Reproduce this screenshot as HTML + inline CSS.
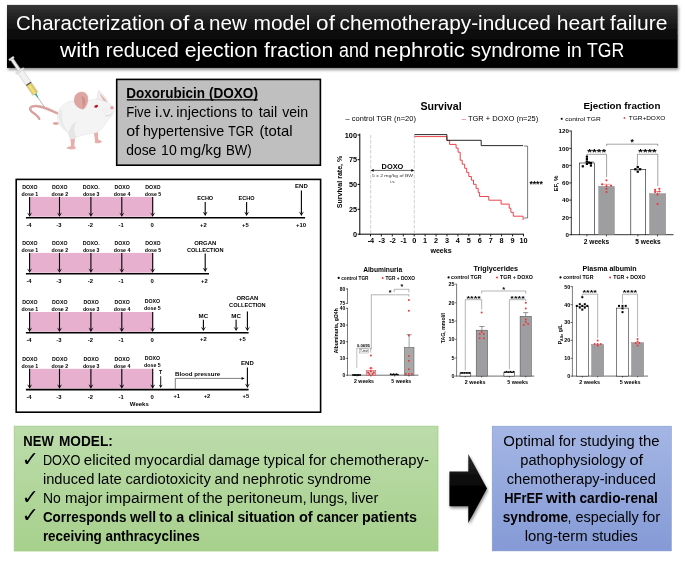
<!DOCTYPE html>
<html lang="en"><head><meta charset="utf-8"><title>Graphical abstract</title>
<style>
html,body{margin:0;padding:0;background:#fff;}
body{width:685px;height:564px;overflow:hidden;}
svg{display:block;font-family:"Liberation Sans",sans-serif;}
</style></head><body>
<svg width="685" height="564" viewBox="0 0 685 564">
<defs>
<linearGradient id="gBan" x1="0" y1="0" x2="0" y2="1"><stop offset="0" stop-color="#353535"/><stop offset="0.2" stop-color="#222"/><stop offset="0.4" stop-color="#101010"/><stop offset="0.6" stop-color="#030303"/><stop offset="0.7" stop-color="#000"/><stop offset="1" stop-color="#000"/></linearGradient>
<linearGradient id="gArr" x1="0" y1="0" x2="0" y2="1"><stop offset="0" stop-color="#2e2e2e"/><stop offset="0.3" stop-color="#111"/><stop offset="0.55" stop-color="#000"/></linearGradient>
<linearGradient id="gGreen" x1="0" y1="0" x2="0" y2="1"><stop offset="0" stop-color="#bcdcab"/><stop offset="1" stop-color="#a7d08c"/></linearGradient>
<linearGradient id="gBlue" x1="0" y1="0" x2="0" y2="1"><stop offset="0" stop-color="#a4b6e4"/><stop offset="1" stop-color="#859ad6"/></linearGradient>
<filter id="sh" x="-5%" y="-10%" width="110%" height="130%"><feGaussianBlur in="SourceAlpha" stdDeviation="1.6"/><feOffset dx="0.5" dy="1.5"/><feComponentTransfer><feFuncA type="linear" slope="0.45"/></feComponentTransfer><feMerge><feMergeNode/><feMergeNode in="SourceGraphic"/></feMerge></filter>
</defs>
<rect width="685" height="564" fill="#fff"/>

<rect x="7" y="4.9" width="670.6" height="63" fill="url(#gBan)" filter="url(#sh)"/>
<text y="30.3" font-size="19.6" font-weight="normal" fill="#fff"><tspan x="16.1" textLength="148.8" lengthAdjust="spacingAndGlyphs">Characterization</tspan> <tspan x="169.5" textLength="19.8" lengthAdjust="spacingAndGlyphs">of</tspan> <tspan x="193.5" textLength="11.0" lengthAdjust="spacingAndGlyphs">a</tspan> <tspan x="209.1" textLength="37.8" lengthAdjust="spacingAndGlyphs">new</tspan> <tspan x="253.5" textLength="57.0" lengthAdjust="spacingAndGlyphs">model</tspan> <tspan x="316.1" textLength="18.8" lengthAdjust="spacingAndGlyphs">of</tspan> <tspan x="339.5" textLength="211.4" lengthAdjust="spacingAndGlyphs">chemotherapy-induced</tspan> <tspan x="556.7" textLength="48.2" lengthAdjust="spacingAndGlyphs">heart</tspan> <tspan x="610.1" textLength="57.4" lengthAdjust="spacingAndGlyphs">failure</tspan></text>
<text y="56.7" font-size="19.6" font-weight="normal" fill="#fff"><tspan x="60.1" textLength="39.8" lengthAdjust="spacingAndGlyphs">with</tspan> <tspan x="105.7" textLength="73.2" lengthAdjust="spacingAndGlyphs">reduced</tspan> <tspan x="184.7" textLength="73.2" lengthAdjust="spacingAndGlyphs">ejection</tspan> <tspan x="264.1" textLength="69.2" lengthAdjust="spacingAndGlyphs">fraction</tspan> <tspan x="339.1" textLength="29.8" lengthAdjust="spacingAndGlyphs">and</tspan> <tspan x="374.1" textLength="90.8" lengthAdjust="spacingAndGlyphs">nephrotic</tspan> <tspan x="470.7" textLength="89.8" lengthAdjust="spacingAndGlyphs">syndrome</tspan> <tspan x="566.7" textLength="15.2" lengthAdjust="spacingAndGlyphs">in</tspan> <tspan x="587.1" textLength="37.2" lengthAdjust="spacingAndGlyphs">TGR</tspan></text>
<rect x="116.7" y="79.4" width="203.7" height="85.8" fill="#bfbfbf" stroke="#000" stroke-width="1.6"/>
<text y="97.8" font-size="13.9" font-weight="bold" fill="#000"><tspan x="126.2" textLength="78.7" lengthAdjust="spacingAndGlyphs">Doxorubicin</tspan> <tspan x="209.0" textLength="48.9" lengthAdjust="spacingAndGlyphs">(DOXO)</tspan></text>
<line x1="126.8" y1="99.9" x2="257.8" y2="99.9" stroke="#000" stroke-width="1.1"/>
<text y="116.6" font-size="13.9" font-weight="normal" fill="#000"><tspan x="126.2" textLength="24.8" lengthAdjust="spacingAndGlyphs">Five</tspan> <tspan x="155.1" textLength="18.6" lengthAdjust="spacingAndGlyphs">i.v.</tspan> <tspan x="176.3" textLength="60.8" lengthAdjust="spacingAndGlyphs">injections</tspan> <tspan x="241.2" textLength="11.8" lengthAdjust="spacingAndGlyphs">to</tspan> <tspan x="258.7" textLength="18.6" lengthAdjust="spacingAndGlyphs">tail</tspan> <tspan x="282.2" textLength="25.9" lengthAdjust="spacingAndGlyphs">vein</tspan></text>
<text y="135.6" font-size="13.9" font-weight="normal" fill="#000"><tspan x="126.2" textLength="13.4" lengthAdjust="spacingAndGlyphs">of</tspan> <tspan x="142.9" textLength="81.3" lengthAdjust="spacingAndGlyphs">hypertensive</tspan> <tspan x="228.3" textLength="25.5" lengthAdjust="spacingAndGlyphs">TGR</tspan> <tspan x="259.4" textLength="33.1" lengthAdjust="spacingAndGlyphs">(total</tspan></text>
<text y="154.6" font-size="13.9" font-weight="normal" fill="#000"><tspan x="126.2" textLength="30.1" lengthAdjust="spacingAndGlyphs">dose</tspan> <tspan x="161.1" textLength="15.7" lengthAdjust="spacingAndGlyphs">10</tspan> <tspan x="180.1" textLength="41.3" lengthAdjust="spacingAndGlyphs">mg/kg</tspan> <tspan x="226.0" textLength="25.8" lengthAdjust="spacingAndGlyphs">BW)</tspan></text>
<rect x="16.2" y="179.4" width="304.4" height="232.8" fill="#fff" stroke="#000" stroke-width="1.6"/>
<rect x="29.6" y="196.9" width="123.5" height="19.8" fill="#e8b0cf" stroke="none" stroke-width="1"/>
<line x1="25.9" y1="217.7" x2="305.1" y2="217.7" stroke="#000" stroke-width="1.6"/>
<line x1="29.6" y1="196.9" x2="29.6" y2="214.2" stroke="#000" stroke-width="1.1"/>
<path d="M27.1,212.4 L29.6,214.4 L32.1,212.4 L29.6,216.8 Z" fill="#000"/>
<line x1="59.5" y1="196.9" x2="59.5" y2="214.2" stroke="#000" stroke-width="1.1"/>
<path d="M57.0,212.4 L59.5,214.4 L62.0,212.4 L59.5,216.8 Z" fill="#000"/>
<line x1="90.9" y1="196.9" x2="90.9" y2="214.2" stroke="#000" stroke-width="1.1"/>
<path d="M88.4,212.4 L90.9,214.4 L93.4,212.4 L90.9,216.8 Z" fill="#000"/>
<line x1="121.8" y1="196.9" x2="121.8" y2="214.2" stroke="#000" stroke-width="1.1"/>
<path d="M119.3,212.4 L121.8,214.4 L124.3,212.4 L121.8,216.8 Z" fill="#000"/>
<line x1="152.7" y1="196.9" x2="152.7" y2="214.2" stroke="#000" stroke-width="1.1"/>
<path d="M150.2,212.4 L152.7,214.4 L155.2,212.4 L152.7,216.8 Z" fill="#000"/>
<text x="29.9" y="189.1" font-size="5.3" text-anchor="middle" font-weight="bold" fill="#000" textLength="15.4" lengthAdjust="spacingAndGlyphs">DOXO</text>
<text x="29.9" y="195.9" font-size="5.3" text-anchor="middle" font-weight="bold" fill="#000" textLength="16.6" lengthAdjust="spacingAndGlyphs">dose 1</text>
<text x="59.8" y="189.1" font-size="5.3" text-anchor="middle" font-weight="bold" fill="#000" textLength="15.4" lengthAdjust="spacingAndGlyphs">DOXO</text>
<text x="59.8" y="195.9" font-size="5.3" text-anchor="middle" font-weight="bold" fill="#000" textLength="16.6" lengthAdjust="spacingAndGlyphs">dose 2</text>
<text x="91.2" y="189.1" font-size="5.3" text-anchor="middle" font-weight="bold" fill="#000" textLength="17.0" lengthAdjust="spacingAndGlyphs">DOXO.</text>
<text x="91.2" y="195.9" font-size="5.3" text-anchor="middle" font-weight="bold" fill="#000" textLength="16.6" lengthAdjust="spacingAndGlyphs">dose 3</text>
<text x="122.1" y="189.1" font-size="5.3" text-anchor="middle" font-weight="bold" fill="#000" textLength="15.4" lengthAdjust="spacingAndGlyphs">DOXO</text>
<text x="122.1" y="195.9" font-size="5.3" text-anchor="middle" font-weight="bold" fill="#000" textLength="16.6" lengthAdjust="spacingAndGlyphs">dose 4</text>
<text x="153.0" y="189.1" font-size="5.3" text-anchor="middle" font-weight="bold" fill="#000" textLength="15.4" lengthAdjust="spacingAndGlyphs">DOXO</text>
<text x="153.0" y="195.9" font-size="5.3" text-anchor="middle" font-weight="bold" fill="#000" textLength="16.6" lengthAdjust="spacingAndGlyphs">dose 5</text>
<text x="29.0" y="227.0" font-size="5.5" text-anchor="middle" font-weight="bold" fill="#000" textLength="5.2" lengthAdjust="spacingAndGlyphs">-4</text>
<text x="58.9" y="227.0" font-size="5.5" text-anchor="middle" font-weight="bold" fill="#000" textLength="5.2" lengthAdjust="spacingAndGlyphs">-3</text>
<text x="90.3" y="227.0" font-size="5.5" text-anchor="middle" font-weight="bold" fill="#000" textLength="5.2" lengthAdjust="spacingAndGlyphs">-2</text>
<text x="121.2" y="227.0" font-size="5.5" text-anchor="middle" font-weight="bold" fill="#000" textLength="5.2" lengthAdjust="spacingAndGlyphs">-1</text>
<text x="152.1" y="227.0" font-size="5.5" text-anchor="middle" font-weight="bold" fill="#000" textLength="3.3" lengthAdjust="spacingAndGlyphs">0</text>
<text x="205.2" y="199.9" font-size="5.3" text-anchor="middle" font-weight="bold" fill="#000" textLength="16.0" lengthAdjust="spacingAndGlyphs">ECHO</text>
<line x1="205.2" y1="202.0" x2="205.2" y2="213.4" stroke="#000" stroke-width="1.1"/>
<path d="M202.7,211.6 L205.2,213.6 L207.7,211.6 L205.2,216.0 Z" fill="#000"/>
<text x="246.6" y="199.9" font-size="5.3" text-anchor="middle" font-weight="bold" fill="#000" textLength="16.0" lengthAdjust="spacingAndGlyphs">ECHO</text>
<line x1="246.6" y1="202.0" x2="246.6" y2="213.4" stroke="#000" stroke-width="1.1"/>
<path d="M244.1,211.6 L246.6,213.6 L249.1,211.6 L246.6,216.0 Z" fill="#000"/>
<text x="301.4" y="188.1" font-size="5.3" text-anchor="middle" font-weight="bold" fill="#000" textLength="12.6" lengthAdjust="spacingAndGlyphs">END</text>
<line x1="301.4" y1="190.6" x2="301.4" y2="213.4" stroke="#000" stroke-width="1.1"/>
<path d="M298.9,211.6 L301.4,213.6 L303.9,211.6 L301.4,216.0 Z" fill="#000"/>
<text x="203.4" y="227.0" font-size="5.5" text-anchor="middle" font-weight="bold" fill="#000" textLength="6.6" lengthAdjust="spacingAndGlyphs">+2</text>
<text x="245.4" y="227.0" font-size="5.5" text-anchor="middle" font-weight="bold" fill="#000" textLength="6.6" lengthAdjust="spacingAndGlyphs">+5</text>
<text x="301.1" y="227.0" font-size="5.5" text-anchor="middle" font-weight="bold" fill="#000" textLength="10.2" lengthAdjust="spacingAndGlyphs">+10</text>
<rect x="29.6" y="252.9" width="123.5" height="19.8" fill="#e8b0cf" stroke="none" stroke-width="1"/>
<line x1="25.9" y1="273.7" x2="209.0" y2="273.7" stroke="#000" stroke-width="1.6"/>
<line x1="29.6" y1="252.9" x2="29.6" y2="270.2" stroke="#000" stroke-width="1.1"/>
<path d="M27.1,268.4 L29.6,270.4 L32.1,268.4 L29.6,272.8 Z" fill="#000"/>
<line x1="59.5" y1="252.9" x2="59.5" y2="270.2" stroke="#000" stroke-width="1.1"/>
<path d="M57.0,268.4 L59.5,270.4 L62.0,268.4 L59.5,272.8 Z" fill="#000"/>
<line x1="90.9" y1="252.9" x2="90.9" y2="270.2" stroke="#000" stroke-width="1.1"/>
<path d="M88.4,268.4 L90.9,270.4 L93.4,268.4 L90.9,272.8 Z" fill="#000"/>
<line x1="121.8" y1="252.9" x2="121.8" y2="270.2" stroke="#000" stroke-width="1.1"/>
<path d="M119.3,268.4 L121.8,270.4 L124.3,268.4 L121.8,272.8 Z" fill="#000"/>
<line x1="152.7" y1="252.9" x2="152.7" y2="270.2" stroke="#000" stroke-width="1.1"/>
<path d="M150.2,268.4 L152.7,270.4 L155.2,268.4 L152.7,272.8 Z" fill="#000"/>
<text x="29.9" y="245.1" font-size="5.3" text-anchor="middle" font-weight="bold" fill="#000" textLength="15.4" lengthAdjust="spacingAndGlyphs">DOXO</text>
<text x="29.9" y="251.9" font-size="5.3" text-anchor="middle" font-weight="bold" fill="#000" textLength="16.6" lengthAdjust="spacingAndGlyphs">dose 1</text>
<text x="59.8" y="245.1" font-size="5.3" text-anchor="middle" font-weight="bold" fill="#000" textLength="15.4" lengthAdjust="spacingAndGlyphs">DOXO</text>
<text x="59.8" y="251.9" font-size="5.3" text-anchor="middle" font-weight="bold" fill="#000" textLength="16.6" lengthAdjust="spacingAndGlyphs">dose 2</text>
<text x="91.2" y="245.1" font-size="5.3" text-anchor="middle" font-weight="bold" fill="#000" textLength="17.0" lengthAdjust="spacingAndGlyphs">DOXO.</text>
<text x="91.2" y="251.9" font-size="5.3" text-anchor="middle" font-weight="bold" fill="#000" textLength="16.6" lengthAdjust="spacingAndGlyphs">dose 3</text>
<text x="122.1" y="245.1" font-size="5.3" text-anchor="middle" font-weight="bold" fill="#000" textLength="15.4" lengthAdjust="spacingAndGlyphs">DOXO</text>
<text x="122.1" y="251.9" font-size="5.3" text-anchor="middle" font-weight="bold" fill="#000" textLength="16.6" lengthAdjust="spacingAndGlyphs">dose 4</text>
<text x="153.0" y="245.1" font-size="5.3" text-anchor="middle" font-weight="bold" fill="#000" textLength="15.4" lengthAdjust="spacingAndGlyphs">DOXO</text>
<text x="153.0" y="251.9" font-size="5.3" text-anchor="middle" font-weight="bold" fill="#000" textLength="16.6" lengthAdjust="spacingAndGlyphs">dose 5</text>
<text x="29.0" y="283.0" font-size="5.5" text-anchor="middle" font-weight="bold" fill="#000" textLength="5.2" lengthAdjust="spacingAndGlyphs">-4</text>
<text x="58.9" y="283.0" font-size="5.5" text-anchor="middle" font-weight="bold" fill="#000" textLength="5.2" lengthAdjust="spacingAndGlyphs">-3</text>
<text x="90.3" y="283.0" font-size="5.5" text-anchor="middle" font-weight="bold" fill="#000" textLength="5.2" lengthAdjust="spacingAndGlyphs">-2</text>
<text x="121.2" y="283.0" font-size="5.5" text-anchor="middle" font-weight="bold" fill="#000" textLength="5.2" lengthAdjust="spacingAndGlyphs">-1</text>
<text x="152.1" y="283.0" font-size="5.5" text-anchor="middle" font-weight="bold" fill="#000" textLength="3.3" lengthAdjust="spacingAndGlyphs">0</text>
<text x="205.2" y="244.6" font-size="5.3" text-anchor="middle" font-weight="bold" fill="#000" textLength="22.0" lengthAdjust="spacingAndGlyphs">ORGAN</text>
<text x="205.2" y="251.7" font-size="5.3" text-anchor="middle" font-weight="bold" fill="#000" textLength="36.6" lengthAdjust="spacingAndGlyphs">COLLECTION</text>
<line x1="205.2" y1="253.6" x2="205.2" y2="269.4" stroke="#000" stroke-width="1.1"/>
<path d="M202.7,267.6 L205.2,269.6 L207.7,267.6 L205.2,272.0 Z" fill="#000"/>
<text x="204.4" y="283.0" font-size="5.5" text-anchor="middle" font-weight="bold" fill="#000" textLength="6.6" lengthAdjust="spacingAndGlyphs">+2</text>
<rect x="29.6" y="312.0" width="123.5" height="19.8" fill="#e8b0cf" stroke="none" stroke-width="1"/>
<line x1="25.9" y1="332.8" x2="248.6" y2="332.8" stroke="#000" stroke-width="1.6"/>
<line x1="29.6" y1="312.0" x2="29.6" y2="329.3" stroke="#000" stroke-width="1.1"/>
<path d="M27.1,327.5 L29.6,329.5 L32.1,327.5 L29.6,331.9 Z" fill="#000"/>
<line x1="59.5" y1="312.0" x2="59.5" y2="329.3" stroke="#000" stroke-width="1.1"/>
<path d="M57.0,327.5 L59.5,329.5 L62.0,327.5 L59.5,331.9 Z" fill="#000"/>
<line x1="90.9" y1="312.0" x2="90.9" y2="329.3" stroke="#000" stroke-width="1.1"/>
<path d="M88.4,327.5 L90.9,329.5 L93.4,327.5 L90.9,331.9 Z" fill="#000"/>
<line x1="121.8" y1="312.0" x2="121.8" y2="329.3" stroke="#000" stroke-width="1.1"/>
<path d="M119.3,327.5 L121.8,329.5 L124.3,327.5 L121.8,331.9 Z" fill="#000"/>
<line x1="152.7" y1="312.0" x2="152.7" y2="329.3" stroke="#000" stroke-width="1.1"/>
<path d="M150.2,327.5 L152.7,329.5 L155.2,327.5 L152.7,331.9 Z" fill="#000"/>
<text x="29.9" y="304.2" font-size="5.3" text-anchor="middle" font-weight="bold" fill="#000" textLength="15.4" lengthAdjust="spacingAndGlyphs">DOXO</text>
<text x="29.9" y="311.0" font-size="5.3" text-anchor="middle" font-weight="bold" fill="#000" textLength="16.6" lengthAdjust="spacingAndGlyphs">dose 1</text>
<text x="59.8" y="304.2" font-size="5.3" text-anchor="middle" font-weight="bold" fill="#000" textLength="15.4" lengthAdjust="spacingAndGlyphs">DOXO</text>
<text x="59.8" y="311.0" font-size="5.3" text-anchor="middle" font-weight="bold" fill="#000" textLength="16.6" lengthAdjust="spacingAndGlyphs">dose 2</text>
<text x="91.2" y="304.2" font-size="5.3" text-anchor="middle" font-weight="bold" fill="#000" textLength="15.4" lengthAdjust="spacingAndGlyphs">DOXO</text>
<text x="91.2" y="311.0" font-size="5.3" text-anchor="middle" font-weight="bold" fill="#000" textLength="16.6" lengthAdjust="spacingAndGlyphs">dose 3</text>
<text x="122.1" y="304.2" font-size="5.3" text-anchor="middle" font-weight="bold" fill="#000" textLength="15.4" lengthAdjust="spacingAndGlyphs">DOXO</text>
<text x="122.1" y="311.0" font-size="5.3" text-anchor="middle" font-weight="bold" fill="#000" textLength="16.6" lengthAdjust="spacingAndGlyphs">dose 4</text>
<text x="152.4" y="303.4" font-size="5.3" text-anchor="middle" font-weight="bold" fill="#000" textLength="15.4" lengthAdjust="spacingAndGlyphs">DOXO</text>
<text x="152.4" y="310.2" font-size="5.3" text-anchor="middle" font-weight="bold" fill="#000" textLength="16.6" lengthAdjust="spacingAndGlyphs">dose 5</text>
<text x="29.0" y="342.1" font-size="5.5" text-anchor="middle" font-weight="bold" fill="#000" textLength="5.2" lengthAdjust="spacingAndGlyphs">-4</text>
<text x="58.9" y="342.1" font-size="5.5" text-anchor="middle" font-weight="bold" fill="#000" textLength="5.2" lengthAdjust="spacingAndGlyphs">-3</text>
<text x="90.3" y="342.1" font-size="5.5" text-anchor="middle" font-weight="bold" fill="#000" textLength="5.2" lengthAdjust="spacingAndGlyphs">-2</text>
<text x="121.2" y="342.1" font-size="5.5" text-anchor="middle" font-weight="bold" fill="#000" textLength="5.2" lengthAdjust="spacingAndGlyphs">-1</text>
<text x="152.1" y="342.1" font-size="5.5" text-anchor="middle" font-weight="bold" fill="#000" textLength="3.3" lengthAdjust="spacingAndGlyphs">0</text>
<text x="247.4" y="299.9" font-size="5.3" text-anchor="middle" font-weight="bold" fill="#000" textLength="22.0" lengthAdjust="spacingAndGlyphs">ORGAN</text>
<text x="247.4" y="306.9" font-size="5.3" text-anchor="middle" font-weight="bold" fill="#000" textLength="36.6" lengthAdjust="spacingAndGlyphs">COLLECTION</text>
<line x1="247.4" y1="311.4" x2="247.4" y2="328.5" stroke="#000" stroke-width="1.1"/>
<path d="M244.9,326.7 L247.4,328.7 L249.9,326.7 L247.4,331.1 Z" fill="#000"/>
<text x="203.4" y="317.5" font-size="5.3" text-anchor="middle" font-weight="bold" fill="#000" textLength="9.6" lengthAdjust="spacingAndGlyphs">MC</text>
<line x1="203.4" y1="319.7" x2="203.4" y2="328.5" stroke="#000" stroke-width="1.1"/>
<path d="M200.9,326.7 L203.4,328.7 L205.9,326.7 L203.4,331.1 Z" fill="#000"/>
<text x="236.1" y="317.5" font-size="5.3" text-anchor="middle" font-weight="bold" fill="#000" textLength="9.6" lengthAdjust="spacingAndGlyphs">MC</text>
<line x1="236.1" y1="319.7" x2="236.1" y2="328.5" stroke="#000" stroke-width="1.1"/>
<path d="M233.6,326.7 L236.1,328.7 L238.6,326.7 L236.1,331.1 Z" fill="#000"/>
<text x="203.4" y="341.3" font-size="5.5" text-anchor="middle" font-weight="bold" fill="#000" textLength="6.6" lengthAdjust="spacingAndGlyphs">+2</text>
<text x="242.4" y="341.3" font-size="5.5" text-anchor="middle" font-weight="bold" fill="#000" textLength="6.6" lengthAdjust="spacingAndGlyphs">+5</text>
<rect x="29.6" y="368.8" width="123.5" height="19.8" fill="#e8b0cf" stroke="none" stroke-width="1"/>
<line x1="25.9" y1="389.6" x2="248.6" y2="389.6" stroke="#000" stroke-width="1.6"/>
<line x1="29.6" y1="368.8" x2="29.6" y2="386.1" stroke="#000" stroke-width="1.1"/>
<path d="M27.1,384.3 L29.6,386.3 L32.1,384.3 L29.6,388.7 Z" fill="#000"/>
<line x1="59.5" y1="368.8" x2="59.5" y2="386.1" stroke="#000" stroke-width="1.1"/>
<path d="M57.0,384.3 L59.5,386.3 L62.0,384.3 L59.5,388.7 Z" fill="#000"/>
<line x1="90.9" y1="368.8" x2="90.9" y2="386.1" stroke="#000" stroke-width="1.1"/>
<path d="M88.4,384.3 L90.9,386.3 L93.4,384.3 L90.9,388.7 Z" fill="#000"/>
<line x1="121.8" y1="368.8" x2="121.8" y2="386.1" stroke="#000" stroke-width="1.1"/>
<path d="M119.3,384.3 L121.8,386.3 L124.3,384.3 L121.8,388.7 Z" fill="#000"/>
<line x1="152.7" y1="368.8" x2="152.7" y2="386.1" stroke="#000" stroke-width="1.1"/>
<path d="M150.2,384.3 L152.7,386.3 L155.2,384.3 L152.7,388.7 Z" fill="#000"/>
<text x="29.9" y="361.0" font-size="5.3" text-anchor="middle" font-weight="bold" fill="#000" textLength="15.4" lengthAdjust="spacingAndGlyphs">DOXO</text>
<text x="29.9" y="367.8" font-size="5.3" text-anchor="middle" font-weight="bold" fill="#000" textLength="16.6" lengthAdjust="spacingAndGlyphs">dose 1</text>
<text x="59.8" y="361.0" font-size="5.3" text-anchor="middle" font-weight="bold" fill="#000" textLength="15.4" lengthAdjust="spacingAndGlyphs">DOXO</text>
<text x="59.8" y="367.8" font-size="5.3" text-anchor="middle" font-weight="bold" fill="#000" textLength="16.6" lengthAdjust="spacingAndGlyphs">dose 2</text>
<text x="91.2" y="361.0" font-size="5.3" text-anchor="middle" font-weight="bold" fill="#000" textLength="15.4" lengthAdjust="spacingAndGlyphs">DOXO</text>
<text x="91.2" y="367.8" font-size="5.3" text-anchor="middle" font-weight="bold" fill="#000" textLength="16.6" lengthAdjust="spacingAndGlyphs">dose 3</text>
<text x="122.1" y="361.0" font-size="5.3" text-anchor="middle" font-weight="bold" fill="#000" textLength="15.4" lengthAdjust="spacingAndGlyphs">DOXO</text>
<text x="122.1" y="367.8" font-size="5.3" text-anchor="middle" font-weight="bold" fill="#000" textLength="16.6" lengthAdjust="spacingAndGlyphs">dose 4</text>
<text x="152.4" y="360.2" font-size="5.3" text-anchor="middle" font-weight="bold" fill="#000" textLength="15.4" lengthAdjust="spacingAndGlyphs">DOXO</text>
<text x="152.4" y="367.0" font-size="5.3" text-anchor="middle" font-weight="bold" fill="#000" textLength="16.6" lengthAdjust="spacingAndGlyphs">dose 5</text>
<text x="29.0" y="398.9" font-size="5.5" text-anchor="middle" font-weight="bold" fill="#000" textLength="5.2" lengthAdjust="spacingAndGlyphs">-4</text>
<text x="58.9" y="398.9" font-size="5.5" text-anchor="middle" font-weight="bold" fill="#000" textLength="5.2" lengthAdjust="spacingAndGlyphs">-3</text>
<text x="90.3" y="398.9" font-size="5.5" text-anchor="middle" font-weight="bold" fill="#000" textLength="5.2" lengthAdjust="spacingAndGlyphs">-2</text>
<text x="121.2" y="398.9" font-size="5.5" text-anchor="middle" font-weight="bold" fill="#000" textLength="5.2" lengthAdjust="spacingAndGlyphs">-1</text>
<text x="152.1" y="398.9" font-size="5.5" text-anchor="middle" font-weight="bold" fill="#000" textLength="3.3" lengthAdjust="spacingAndGlyphs">0</text>
<text x="247.4" y="364.7" font-size="5.3" text-anchor="middle" font-weight="bold" fill="#000" textLength="12.6" lengthAdjust="spacingAndGlyphs">END</text>
<line x1="247.4" y1="367.4" x2="247.4" y2="385.3" stroke="#000" stroke-width="1.1"/>
<path d="M244.9,383.5 L247.4,385.5 L249.9,383.5 L247.4,387.9 Z" fill="#000"/>
<text x="160.7" y="374.2" font-size="5.3" text-anchor="middle" font-weight="bold" fill="#000" textLength="3.2" lengthAdjust="spacingAndGlyphs">T</text>
<line x1="160.7" y1="376.2" x2="160.7" y2="386.0" stroke="#000" stroke-width="0.9"/>
<path d="M158.7,384.6 L160.7,386.1 L162.7,384.6 L160.7,388.0 Z" fill="#000"/>
<text x="175.1" y="376.1" font-size="5.3" text-anchor="start" font-weight="bold" fill="#000" textLength="45.2" lengthAdjust="spacingAndGlyphs">Blood pressure</text>
<path d="M175.3,388.8 V378.4 H243" fill="none" stroke="#000" stroke-width="0.5"/>
<path d="M241.6,377.0 L244.6,378.4 L241.6,379.8 Z" fill="#000"/>
<text x="176.8" y="397.7" font-size="5.5" text-anchor="middle" font-weight="bold" fill="#000" textLength="6.6" lengthAdjust="spacingAndGlyphs">+1</text>
<text x="207.0" y="397.7" font-size="5.5" text-anchor="middle" font-weight="bold" fill="#000" textLength="6.6" lengthAdjust="spacingAndGlyphs">+2</text>
<text x="245.9" y="397.7" font-size="5.5" text-anchor="middle" font-weight="bold" fill="#000" textLength="6.6" lengthAdjust="spacingAndGlyphs">+5</text>
<text x="139.3" y="406.0" font-size="5.3" text-anchor="middle" font-weight="bold" fill="#000" textLength="19.0" lengthAdjust="spacingAndGlyphs">Weeks</text>
<text x="441.0" y="109.8" font-size="10.6" text-anchor="middle" font-weight="bold" fill="#000">Survival</text>
<text x="345.6" y="120.9" font-size="7.3" text-anchor="start" font-weight="normal" fill="#000" textLength="70.3" lengthAdjust="spacingAndGlyphs">– control TGR (n=20)</text>
<text x="461.8" y="120.9" font-size="7.3" text-anchor="start" font-weight="normal" fill="#000" textLength="76.5" lengthAdjust="spacingAndGlyphs"><tspan fill="#ea3a40">–</tspan> TGR + DOXO (n=25)</text>
<line x1="359.8" y1="133.6" x2="359.8" y2="234.7" stroke="#000" stroke-width="1.0"/>
<line x1="359.3" y1="234.2" x2="524.0" y2="234.2" stroke="#000" stroke-width="1.0"/>
<line x1="357.6" y1="135.0" x2="359.8" y2="135.0" stroke="#000" stroke-width="1.0"/>
<text x="357.0" y="137.6" font-size="7.3" text-anchor="end" font-weight="bold" fill="#000">100</text>
<line x1="357.6" y1="159.7" x2="359.8" y2="159.7" stroke="#000" stroke-width="1.0"/>
<text x="357.0" y="162.3" font-size="7.3" text-anchor="end" font-weight="bold" fill="#000">75</text>
<line x1="357.6" y1="184.4" x2="359.8" y2="184.4" stroke="#000" stroke-width="1.0"/>
<text x="357.0" y="187.0" font-size="7.3" text-anchor="end" font-weight="bold" fill="#000">50</text>
<line x1="357.6" y1="209.3" x2="359.8" y2="209.3" stroke="#000" stroke-width="1.0"/>
<text x="357.0" y="211.9" font-size="7.3" text-anchor="end" font-weight="bold" fill="#000">25</text>
<line x1="357.6" y1="234.2" x2="359.8" y2="234.2" stroke="#000" stroke-width="1.0"/>
<text x="357.0" y="236.8" font-size="7.3" text-anchor="end" font-weight="bold" fill="#000">0</text>
<line x1="370.5" y1="234.2" x2="370.5" y2="236.4" stroke="#000" stroke-width="0.9"/>
<text x="370.9" y="242.9" font-size="7.3" text-anchor="middle" font-weight="bold" fill="#000">-4</text>
<line x1="381.4" y1="234.2" x2="381.4" y2="236.4" stroke="#000" stroke-width="0.9"/>
<text x="381.8" y="242.9" font-size="7.3" text-anchor="middle" font-weight="bold" fill="#000">-3</text>
<line x1="392.3" y1="234.2" x2="392.3" y2="236.4" stroke="#000" stroke-width="0.9"/>
<text x="392.7" y="242.9" font-size="7.3" text-anchor="middle" font-weight="bold" fill="#000">-2</text>
<line x1="403.3" y1="234.2" x2="403.3" y2="236.4" stroke="#000" stroke-width="0.9"/>
<text x="403.7" y="242.9" font-size="7.3" text-anchor="middle" font-weight="bold" fill="#000">-1</text>
<line x1="414.2" y1="234.2" x2="414.2" y2="236.4" stroke="#000" stroke-width="0.9"/>
<text x="414.2" y="242.9" font-size="7.3" text-anchor="middle" font-weight="bold" fill="#000">0</text>
<line x1="425.1" y1="234.2" x2="425.1" y2="236.4" stroke="#000" stroke-width="0.9"/>
<text x="425.1" y="242.9" font-size="7.3" text-anchor="middle" font-weight="bold" fill="#000">1</text>
<line x1="436.1" y1="234.2" x2="436.1" y2="236.4" stroke="#000" stroke-width="0.9"/>
<text x="436.1" y="242.9" font-size="7.3" text-anchor="middle" font-weight="bold" fill="#000">2</text>
<line x1="447.0" y1="234.2" x2="447.0" y2="236.4" stroke="#000" stroke-width="0.9"/>
<text x="447.0" y="242.9" font-size="7.3" text-anchor="middle" font-weight="bold" fill="#000">3</text>
<line x1="457.9" y1="234.2" x2="457.9" y2="236.4" stroke="#000" stroke-width="0.9"/>
<text x="457.9" y="242.9" font-size="7.3" text-anchor="middle" font-weight="bold" fill="#000">4</text>
<line x1="468.8" y1="234.2" x2="468.8" y2="236.4" stroke="#000" stroke-width="0.9"/>
<text x="468.8" y="242.9" font-size="7.3" text-anchor="middle" font-weight="bold" fill="#000">5</text>
<line x1="479.8" y1="234.2" x2="479.8" y2="236.4" stroke="#000" stroke-width="0.9"/>
<text x="479.8" y="242.9" font-size="7.3" text-anchor="middle" font-weight="bold" fill="#000">6</text>
<line x1="490.7" y1="234.2" x2="490.7" y2="236.4" stroke="#000" stroke-width="0.9"/>
<text x="490.7" y="242.9" font-size="7.3" text-anchor="middle" font-weight="bold" fill="#000">7</text>
<line x1="501.6" y1="234.2" x2="501.6" y2="236.4" stroke="#000" stroke-width="0.9"/>
<text x="501.6" y="242.9" font-size="7.3" text-anchor="middle" font-weight="bold" fill="#000">8</text>
<line x1="512.6" y1="234.2" x2="512.6" y2="236.4" stroke="#000" stroke-width="0.9"/>
<text x="512.6" y="242.9" font-size="7.3" text-anchor="middle" font-weight="bold" fill="#000">9</text>
<line x1="523.5" y1="234.2" x2="523.5" y2="236.4" stroke="#000" stroke-width="0.9"/>
<text x="523.5" y="242.9" font-size="7.3" text-anchor="middle" font-weight="bold" fill="#000">10</text>
<text x="441.0" y="252.5" font-size="7.3" text-anchor="middle" font-weight="bold" fill="#000" textLength="21.2" lengthAdjust="spacingAndGlyphs">weeks</text>
<text transform="translate(342.2,182) rotate(-90)" font-size="7.3" font-weight="bold" text-anchor="middle" textLength="52.6" lengthAdjust="spacingAndGlyphs">Survival rate, %</text>
<line x1="370.7" y1="135.0" x2="370.7" y2="233.5" stroke="#b0b0b0" stroke-width="0.6" stroke-dasharray="3.6,1.4"/>
<line x1="414.3" y1="135.0" x2="414.3" y2="233.5" stroke="#b0b0b0" stroke-width="0.6" stroke-dasharray="3.6,1.4"/>
<text x="392.5" y="169.0" font-size="7.4" text-anchor="middle" font-weight="bold" fill="#000">DOXO</text>
<line x1="372.0" y1="170.4" x2="413.0" y2="170.4" stroke="#000" stroke-width="0.6"/>
<path d="M370.7,170.4 l3,-1.3 v2.6 Z M414.3,170.4 l-3,-1.3 v2.6 Z" fill="#000"/>
<text x="392.6" y="177.2" font-size="4.3" text-anchor="middle" font-weight="normal" fill="#333" textLength="41.0" lengthAdjust="spacingAndGlyphs">5 x 2 mg/kg of BW</text>
<text x="392.6" y="182.8" font-size="4.3" text-anchor="middle" font-weight="normal" fill="#333">i.v.</text>
<polyline fill="none" stroke="#ea3a40" stroke-width="0.95" points="414.4,136.6 446.9,136.6 446.9,140.5 449.6,140.5 449.6,144.4 456.1,144.4 456.1,148.1 458.1,148.1 458.1,152.2 460.2,152.2 460.2,160.2 462.2,160.2 462.2,164.2 464.7,164.2 464.7,168.3 466.7,168.3 466.7,172.4 468.8,172.4 468.8,176.5 471.4,176.5 471.4,180.2 473.5,180.2 473.5,184.3 476.1,184.3 476.1,188.4 478.2,188.4 478.2,192.4 479.6,192.4 479.6,196.5 488.8,196.5 488.8,200.2 501.1,200.2 501.1,204.1 509.2,204.1 509.2,208.2 510.9,208.2 510.9,212.3 513.3,212.3 513.3,216.2 523.1,216.2 523.1,220.0"/>
<polyline fill="none" stroke="#111" stroke-width="0.9" points="414.4,134.6 446.9,134.6 446.9,140.3 481.2,140.3 481.2,145.6 523.1,145.6"/>
<path d="M524.1,146.1 H527.6 V218 H524.1" fill="none" stroke="#222" stroke-width="0.6"/>
<text x="536.1" y="186.9" font-size="9.0" text-anchor="middle" font-weight="bold" fill="#000" textLength="13.4" lengthAdjust="spacingAndGlyphs">****</text>
<text x="621.9" y="109.3" font-size="9.8" text-anchor="middle" font-weight="bold" fill="#000" textLength="77.0" lengthAdjust="spacingAndGlyphs">Ejection fraction</text>
<rect x="560.8" y="117.9" width="1.8" height="1.8" fill="#000" stroke="none" stroke-width="1"/>
<text x="565.2" y="120.7" font-size="5.7" text-anchor="start" font-weight="normal" fill="#000" textLength="35.6" lengthAdjust="spacingAndGlyphs">control TGR</text>
<circle cx="624.5" cy="117.9" r="0.95" fill="#ea3a40"/>
<text x="628.7" y="119.9" font-size="5.7" text-anchor="start" font-weight="normal" fill="#000" textLength="36.6" lengthAdjust="spacingAndGlyphs">TGR+DOXO</text>
<line x1="571.3" y1="130.6" x2="571.3" y2="235.1" stroke="#000" stroke-width="0.8"/>
<line x1="570.9" y1="234.7" x2="673.5" y2="234.7" stroke="#000" stroke-width="0.8"/>
<line x1="569.2" y1="131.0" x2="571.3" y2="131.0" stroke="#000" stroke-width="0.8"/>
<text x="568.9" y="133.2" font-size="6.2" text-anchor="end" font-weight="bold" fill="#000">120</text>
<line x1="569.2" y1="148.3" x2="571.3" y2="148.3" stroke="#000" stroke-width="0.8"/>
<text x="568.9" y="150.5" font-size="6.2" text-anchor="end" font-weight="bold" fill="#000">100</text>
<line x1="569.2" y1="165.4" x2="571.3" y2="165.4" stroke="#000" stroke-width="0.8"/>
<text x="568.9" y="167.6" font-size="6.2" text-anchor="end" font-weight="bold" fill="#000">80</text>
<line x1="569.2" y1="182.9" x2="571.3" y2="182.9" stroke="#000" stroke-width="0.8"/>
<text x="568.9" y="185.1" font-size="6.2" text-anchor="end" font-weight="bold" fill="#000">60</text>
<line x1="569.2" y1="200.1" x2="571.3" y2="200.1" stroke="#000" stroke-width="0.8"/>
<text x="568.9" y="202.3" font-size="6.2" text-anchor="end" font-weight="bold" fill="#000">40</text>
<line x1="569.2" y1="217.6" x2="571.3" y2="217.6" stroke="#000" stroke-width="0.8"/>
<text x="568.9" y="219.8" font-size="6.2" text-anchor="end" font-weight="bold" fill="#000">20</text>
<line x1="569.2" y1="234.7" x2="571.3" y2="234.7" stroke="#000" stroke-width="0.8"/>
<text x="568.9" y="236.9" font-size="6.2" text-anchor="end" font-weight="bold" fill="#000">0</text>
<text transform="translate(557.8,183.5) rotate(-90)" font-size="6.2" font-weight="bold" text-anchor="middle">EF, %</text>
<rect x="579.5" y="163.0" width="15.1" height="71.7" fill="#fff" stroke="#111" stroke-width="0.6"/>
<rect x="598.8" y="186.5" width="15.5" height="48.2" fill="#9e9ea0" stroke="#707070" stroke-width="0.4"/>
<rect x="630.8" y="169.5" width="14.9" height="65.2" fill="#fff" stroke="#111" stroke-width="0.6"/>
<rect x="649.7" y="193.7" width="15.9" height="41.0" fill="#9e9ea0" stroke="#707070" stroke-width="0.4"/>
<line x1="586.9" y1="234.7" x2="586.9" y2="236.4" stroke="#000" stroke-width="0.7"/>
<line x1="606.5" y1="234.7" x2="606.5" y2="236.4" stroke="#000" stroke-width="0.7"/>
<line x1="637.8" y1="234.7" x2="637.8" y2="236.4" stroke="#000" stroke-width="0.7"/>
<line x1="657.5" y1="234.7" x2="657.5" y2="236.4" stroke="#000" stroke-width="0.7"/>
<line x1="589.3" y1="162.0" x2="589.3" y2="162.8" stroke="#000" stroke-width="0.5"/>
<line x1="584.8" y1="162.0" x2="593.8" y2="162.0" stroke="#000" stroke-width="0.5"/>
<rect x="581.7" y="165.2" width="2.2" height="2.2" fill="#000" stroke="none" stroke-width="1"/>
<rect x="585.8" y="155.6" width="2.2" height="2.2" fill="#000" stroke="none" stroke-width="1"/>
<rect x="585.8" y="158.0" width="2.2" height="2.2" fill="#000" stroke="none" stroke-width="1"/>
<rect x="585.8" y="160.4" width="2.2" height="2.2" fill="#000" stroke="none" stroke-width="1"/>
<rect x="585.8" y="162.8" width="2.2" height="2.2" fill="#000" stroke="none" stroke-width="1"/>
<rect x="589.8" y="162.0" width="2.2" height="2.2" fill="#000" stroke="none" stroke-width="1"/>
<rect x="589.8" y="164.4" width="2.2" height="2.2" fill="#000" stroke="none" stroke-width="1"/>
<rect x="587.8" y="161.5" width="2.2" height="2.2" fill="#000" stroke="none" stroke-width="1"/>
<rect x="636.6" y="166.0" width="2.3" height="2.3" fill="#000" stroke="none" stroke-width="1"/>
<rect x="634.2" y="168.1" width="2.3" height="2.3" fill="#000" stroke="none" stroke-width="1"/>
<rect x="639.0" y="168.1" width="2.3" height="2.3" fill="#000" stroke="none" stroke-width="1"/>
<rect x="636.6" y="170.5" width="2.3" height="2.3" fill="#000" stroke="none" stroke-width="1"/>
<line x1="606.5" y1="184.3" x2="606.5" y2="186.4" stroke="#ea3a40" stroke-width="0.5"/>
<line x1="602.9" y1="184.3" x2="610.1" y2="184.3" stroke="#ea3a40" stroke-width="0.5"/>
<line x1="657.5" y1="191.5" x2="657.5" y2="193.6" stroke="#ea3a40" stroke-width="0.5"/>
<line x1="654.3" y1="191.5" x2="660.7" y2="191.5" stroke="#ea3a40" stroke-width="0.5"/>
<circle cx="606.5" cy="180.3" r="1.1" fill="#ea3a40"/>
<circle cx="602.1" cy="184.3" r="1.1" fill="#ea3a40"/>
<circle cx="606.5" cy="186.1" r="1.1" fill="#ea3a40"/>
<circle cx="611.0" cy="185.6" r="1.1" fill="#ea3a40"/>
<circle cx="606.5" cy="188.8" r="1.1" fill="#ea3a40"/>
<circle cx="606.5" cy="192.0" r="1.1" fill="#ea3a40"/>
<circle cx="655.1" cy="189.9" r="1.1" fill="#ea3a40"/>
<circle cx="659.4" cy="188.8" r="1.1" fill="#ea3a40"/>
<circle cx="655.1" cy="192.0" r="1.1" fill="#ea3a40"/>
<circle cx="659.4" cy="191.5" r="1.1" fill="#ea3a40"/>
<circle cx="657.5" cy="194.4" r="1.1" fill="#ea3a40"/>
<circle cx="657.5" cy="204.1" r="1.1" fill="#ea3a40"/>
<text x="596.4" y="244.1" font-size="6.5" text-anchor="middle" font-weight="bold" fill="#000" textLength="25.3" lengthAdjust="spacingAndGlyphs">2 weeks</text>
<text x="648.0" y="244.1" font-size="6.5" text-anchor="middle" font-weight="bold" fill="#000" textLength="25.3" lengthAdjust="spacingAndGlyphs">5 weeks</text>
<path d="M586.9,156.4 V154.3 H606.6 V177.1" fill="none" stroke="#333" stroke-width="0.45"/>
<path d="M637.4,166.3 V154.3 H657.8 V186.1" fill="none" stroke="#333" stroke-width="0.45"/>
<path d="M606.6,146.0 V144.2 H657.8 V146.0" fill="none" stroke="#333" stroke-width="0.45"/>
<text x="596.7" y="154.6" font-size="8.6" text-anchor="middle" font-weight="bold" fill="#000" textLength="18.8" lengthAdjust="spacingAndGlyphs">****</text>
<text x="647.5" y="154.6" font-size="8.6" text-anchor="middle" font-weight="bold" fill="#000" textLength="18.4" lengthAdjust="spacingAndGlyphs">****</text>
<text x="632.1" y="144.6" font-size="8.6" text-anchor="middle" font-weight="bold" fill="#000">*</text>
<text x="382.7" y="271.8" font-size="7.2" text-anchor="middle" font-weight="bold" fill="#000" textLength="39.0" lengthAdjust="spacingAndGlyphs">Albuminuria</text>
<circle cx="338.7" cy="277.9" r="1.1" fill="#000"/>
<text x="341.2" y="279.7" font-size="5.0" text-anchor="start" font-weight="bold" fill="#000" textLength="27.3" lengthAdjust="spacingAndGlyphs">control TGR</text>
<circle cx="382.7" cy="277.9" r="1.0" fill="#ea3a40"/>
<text x="385.4" y="279.7" font-size="5.0" text-anchor="start" font-weight="bold" fill="#000" textLength="29.6" lengthAdjust="spacingAndGlyphs">TGR + DOXO</text>
<line x1="347.5" y1="288.4" x2="347.5" y2="303.8" stroke="#222" stroke-width="0.6"/>
<line x1="347.5" y1="307.9" x2="347.5" y2="375.5" stroke="#222" stroke-width="0.6"/>
<line x1="347.3" y1="375.2" x2="418.4" y2="375.2" stroke="#222" stroke-width="0.65"/>
<line x1="345.8" y1="288.9" x2="347.6" y2="288.9" stroke="#000" stroke-width="0.6"/>
<text x="345.2" y="290.7" font-size="4.9" text-anchor="end" font-weight="bold" fill="#000">80</text>
<line x1="345.8" y1="303.4" x2="347.6" y2="303.4" stroke="#000" stroke-width="0.6"/>
<text x="345.2" y="305.2" font-size="4.9" text-anchor="end" font-weight="bold" fill="#000">75</text>
<line x1="345.8" y1="308.3" x2="347.6" y2="308.3" stroke="#000" stroke-width="0.6"/>
<text x="345.2" y="310.1" font-size="4.9" text-anchor="end" font-weight="bold" fill="#000">40</text>
<line x1="345.8" y1="325.1" x2="347.6" y2="325.1" stroke="#000" stroke-width="0.6"/>
<text x="345.2" y="326.9" font-size="4.9" text-anchor="end" font-weight="bold" fill="#000">30</text>
<line x1="345.8" y1="341.7" x2="347.6" y2="341.7" stroke="#000" stroke-width="0.6"/>
<text x="345.2" y="343.5" font-size="4.9" text-anchor="end" font-weight="bold" fill="#000">20</text>
<line x1="345.8" y1="358.4" x2="347.6" y2="358.4" stroke="#000" stroke-width="0.6"/>
<text x="345.2" y="360.2" font-size="4.9" text-anchor="end" font-weight="bold" fill="#000">10</text>
<line x1="345.8" y1="375.2" x2="347.6" y2="375.2" stroke="#000" stroke-width="0.6"/>
<text x="345.2" y="377.0" font-size="4.9" text-anchor="end" font-weight="bold" fill="#000">0</text>
<text transform="translate(337.6,330.8) rotate(-90)" font-size="5.0" font-weight="bold" text-anchor="middle">Albuminuria, g/24h</text>
<rect x="366.2" y="370.5" width="9.6" height="4.7" fill="#c9c9c9" stroke="#ea3a40" stroke-width="0.5"/>
<rect x="404.4" y="347.4" width="9.6" height="27.8" fill="#a8a8a8" stroke="#555" stroke-width="0.5"/>
<line x1="409.1" y1="334.6" x2="409.1" y2="347.4" stroke="#444" stroke-width="0.5"/>
<line x1="406.6" y1="334.6" x2="411.6" y2="334.6" stroke="#444" stroke-width="0.5"/>
<line x1="370.9" y1="368.2" x2="370.9" y2="370.5" stroke="#ea3a40" stroke-width="0.5"/>
<line x1="368.7" y1="368.2" x2="373.1" y2="368.2" stroke="#ea3a40" stroke-width="0.5"/>
<line x1="357.0" y1="375.2" x2="357.0" y2="376.6" stroke="#000" stroke-width="0.5"/>
<line x1="370.9" y1="375.2" x2="370.9" y2="376.6" stroke="#000" stroke-width="0.5"/>
<line x1="394.6" y1="375.2" x2="394.6" y2="376.6" stroke="#000" stroke-width="0.5"/>
<line x1="408.9" y1="375.2" x2="408.9" y2="376.6" stroke="#000" stroke-width="0.5"/>
<circle cx="408.9" cy="299.9" r="1.0" fill="#ea3a40"/>
<circle cx="408.9" cy="310.7" r="1.0" fill="#ea3a40"/>
<circle cx="408.9" cy="335.6" r="1.0" fill="#ea3a40"/>
<circle cx="408.9" cy="356.0" r="1.0" fill="#ea3a40"/>
<circle cx="408.9" cy="360.7" r="1.0" fill="#ea3a40"/>
<circle cx="408.9" cy="369.3" r="1.0" fill="#ea3a40"/>
<circle cx="405.8" cy="374.0" r="1.0" fill="#ea3a40"/>
<circle cx="408.9" cy="374.0" r="1.0" fill="#ea3a40"/>
<circle cx="411.9" cy="374.0" r="1.0" fill="#ea3a40"/>
<circle cx="370.9" cy="355.6" r="1.0" fill="#ea3a40"/>
<circle cx="370.9" cy="367.9" r="1.0" fill="#ea3a40"/>
<circle cx="368.1" cy="372.6" r="1.0" fill="#ea3a40"/>
<circle cx="370.9" cy="371.3" r="1.0" fill="#ea3a40"/>
<circle cx="373.8" cy="372.6" r="1.0" fill="#ea3a40"/>
<circle cx="369.3" cy="374.0" r="1.0" fill="#ea3a40"/>
<circle cx="372.6" cy="374.0" r="1.0" fill="#ea3a40"/>
<circle cx="353.0" cy="375.0" r="0.9" fill="#000"/>
<circle cx="354.4" cy="375.0" r="0.9" fill="#000"/>
<circle cx="355.8" cy="375.0" r="0.9" fill="#000"/>
<circle cx="357.2" cy="375.0" r="0.9" fill="#000"/>
<circle cx="358.7" cy="375.0" r="0.9" fill="#000"/>
<circle cx="360.1" cy="375.0" r="0.9" fill="#000"/>
<circle cx="390.7" cy="374.2" r="0.9" fill="#000"/>
<circle cx="392.1" cy="374.6" r="0.9" fill="#000"/>
<circle cx="393.6" cy="374.2" r="0.9" fill="#000"/>
<circle cx="395.0" cy="374.6" r="0.9" fill="#000"/>
<circle cx="396.4" cy="374.2" r="0.9" fill="#000"/>
<circle cx="397.9" cy="374.6" r="0.9" fill="#000"/>
<text x="364.0" y="383.0" font-size="5.2" text-anchor="middle" font-weight="bold" fill="#000">2 weeks</text>
<text x="401.3" y="383.0" font-size="5.2" text-anchor="middle" font-weight="bold" fill="#000">5 weeks</text>
<path d="M371.3,349.5 V294.8 H408.9 V296.6" fill="none" stroke="#444" stroke-width="0.4"/>
<path d="M394.2,292.3 V289.3 H408.9 V292.3" fill="none" stroke="#444" stroke-width="0.4"/>
<text x="390.1" y="295.1" font-size="7.0" text-anchor="middle" font-weight="bold" fill="#000">*</text>
<text x="401.9" y="289.4" font-size="7.0" text-anchor="middle" font-weight="bold" fill="#000">*</text>
<text x="363.4" y="346.9" font-size="4.2" text-anchor="middle" font-weight="bold" fill="#000">0.0695</text>
<path d="M356.8,367.9 V348.1 H370.7 V352.5" fill="none" stroke="#444" stroke-width="0.35"/>
<rect x="359.5" y="348.9" width="9.2" height="4.1" fill="#fff" stroke="#555" stroke-width="0.3"/>
<text x="364.1" y="352.2" font-size="3.2" text-anchor="middle" font-weight="normal" fill="#222">T-test</text>
<text x="495.8" y="270.6" font-size="7.3" text-anchor="middle" font-weight="bold" fill="#000" textLength="44.7" lengthAdjust="spacingAndGlyphs">Triglycerides</text>
<circle cx="448.6" cy="277.4" r="1.1" fill="#000"/>
<text x="451.1" y="279.2" font-size="5.2" text-anchor="start" font-weight="bold" fill="#000" textLength="30.6" lengthAdjust="spacingAndGlyphs">control TGR</text>
<circle cx="497.0" cy="277.4" r="1.0" fill="#ea3a40"/>
<text x="500.0" y="279.2" font-size="5.2" text-anchor="start" font-weight="bold" fill="#000" textLength="33.0" lengthAdjust="spacingAndGlyphs">TGR + DOXO</text>
<line x1="456.6" y1="283.8" x2="456.6" y2="376.4" stroke="#222" stroke-width="0.6"/>
<line x1="456.3" y1="376.1" x2="534.3" y2="376.1" stroke="#222" stroke-width="0.65"/>
<line x1="454.9" y1="284.1" x2="456.6" y2="284.1" stroke="#222" stroke-width="0.55"/>
<text x="454.5" y="286.0" font-size="5.4" text-anchor="end" font-weight="bold" fill="#000">25</text>
<line x1="454.9" y1="302.7" x2="456.6" y2="302.7" stroke="#222" stroke-width="0.55"/>
<text x="454.5" y="304.6" font-size="5.4" text-anchor="end" font-weight="bold" fill="#000">20</text>
<line x1="454.9" y1="321.0" x2="456.6" y2="321.0" stroke="#222" stroke-width="0.55"/>
<text x="454.5" y="322.9" font-size="5.4" text-anchor="end" font-weight="bold" fill="#000">15</text>
<line x1="454.9" y1="339.4" x2="456.6" y2="339.4" stroke="#222" stroke-width="0.55"/>
<text x="454.5" y="341.3" font-size="5.4" text-anchor="end" font-weight="bold" fill="#000">10</text>
<line x1="454.9" y1="358.0" x2="456.6" y2="358.0" stroke="#222" stroke-width="0.55"/>
<text x="454.5" y="359.9" font-size="5.4" text-anchor="end" font-weight="bold" fill="#000">5</text>
<line x1="454.9" y1="376.1" x2="456.6" y2="376.1" stroke="#222" stroke-width="0.55"/>
<text x="454.5" y="378.0" font-size="5.4" text-anchor="end" font-weight="bold" fill="#000">0</text>
<text transform="translate(445.1,328.2) rotate(-90)" font-size="5.2" font-weight="bold" text-anchor="middle">TAG, mmol/l</text>
<rect x="460.0" y="372.9" width="10.8" height="3.2" fill="#fff" stroke="#000" stroke-width="0.5"/>
<rect x="476.2" y="330.2" width="11.4" height="45.9" fill="#9e9ea0" stroke="#444" stroke-width="0.5"/>
<rect x="503.9" y="372.2" width="10.8" height="3.9" fill="#fff" stroke="#000" stroke-width="0.5"/>
<rect x="520.1" y="316.3" width="11.2" height="59.8" fill="#9e9ea0" stroke="#444" stroke-width="0.5"/>
<line x1="465.3" y1="376.1" x2="465.3" y2="377.5" stroke="#000" stroke-width="0.5"/>
<line x1="481.7" y1="376.1" x2="481.7" y2="377.5" stroke="#000" stroke-width="0.5"/>
<line x1="509.4" y1="376.1" x2="509.4" y2="377.5" stroke="#000" stroke-width="0.5"/>
<line x1="525.8" y1="376.1" x2="525.8" y2="377.5" stroke="#000" stroke-width="0.5"/>
<line x1="481.9" y1="326.5" x2="481.9" y2="330.2" stroke="#333" stroke-width="0.5"/>
<line x1="479.3" y1="326.5" x2="484.5" y2="326.5" stroke="#333" stroke-width="0.5"/>
<line x1="525.7" y1="312.6" x2="525.7" y2="316.3" stroke="#333" stroke-width="0.5"/>
<line x1="523.1" y1="312.6" x2="528.3" y2="312.6" stroke="#333" stroke-width="0.5"/>
<circle cx="481.7" cy="312.6" r="1.0" fill="#ea3a40"/>
<circle cx="481.7" cy="332.0" r="1.0" fill="#ea3a40"/>
<circle cx="479.7" cy="333.9" r="1.0" fill="#ea3a40"/>
<circle cx="483.9" cy="333.9" r="1.0" fill="#ea3a40"/>
<circle cx="479.7" cy="338.2" r="1.0" fill="#ea3a40"/>
<circle cx="483.9" cy="338.2" r="1.0" fill="#ea3a40"/>
<circle cx="525.8" cy="302.7" r="1.0" fill="#ea3a40"/>
<circle cx="525.8" cy="308.4" r="1.0" fill="#ea3a40"/>
<circle cx="525.8" cy="322.0" r="1.0" fill="#ea3a40"/>
<circle cx="523.8" cy="325.0" r="1.0" fill="#ea3a40"/>
<circle cx="528.1" cy="324.0" r="1.0" fill="#ea3a40"/>
<circle cx="525.8" cy="319.6" r="1.0" fill="#ea3a40"/>
<circle cx="461.1" cy="372.9" r="0.9" fill="#000"/>
<circle cx="462.8" cy="372.9" r="0.9" fill="#000"/>
<circle cx="464.5" cy="372.9" r="0.9" fill="#000"/>
<circle cx="466.3" cy="372.9" r="0.9" fill="#000"/>
<circle cx="468.0" cy="372.9" r="0.9" fill="#000"/>
<circle cx="469.7" cy="372.9" r="0.9" fill="#000"/>
<circle cx="505.0" cy="372.2" r="0.9" fill="#000"/>
<circle cx="506.7" cy="371.7" r="0.9" fill="#000"/>
<circle cx="508.4" cy="372.2" r="0.9" fill="#000"/>
<circle cx="510.2" cy="371.7" r="0.9" fill="#000"/>
<circle cx="511.9" cy="372.2" r="0.9" fill="#000"/>
<circle cx="513.7" cy="371.7" r="0.9" fill="#000"/>
<text x="475.2" y="384.0" font-size="5.4" text-anchor="middle" font-weight="bold" fill="#000">2 weeks</text>
<text x="517.6" y="384.0" font-size="5.4" text-anchor="middle" font-weight="bold" fill="#000">5 weeks</text>
<path d="M465.3,370.4 V299.7 H481.7 V309.6" fill="none" stroke="#444" stroke-width="0.4"/>
<path d="M509.4,369.2 V299.7 H525.8 V301.0" fill="none" stroke="#444" stroke-width="0.4"/>
<path d="M481.7,293.6 V291.0 H525.8 V293.6" fill="none" stroke="#444" stroke-width="0.4"/>
<text x="473.7" y="300.6" font-size="7.6" text-anchor="middle" font-weight="bold" fill="#000" textLength="14.5" lengthAdjust="spacingAndGlyphs">****</text>
<text x="517.6" y="300.6" font-size="7.6" text-anchor="middle" font-weight="bold" fill="#000" textLength="14.5" lengthAdjust="spacingAndGlyphs">****</text>
<text x="503.7" y="291.6" font-size="7.6" text-anchor="middle" font-weight="bold" fill="#000">*</text>
<text x="609.6" y="270.9" font-size="7.3" text-anchor="middle" font-weight="bold" fill="#000" textLength="54.0" lengthAdjust="spacingAndGlyphs">Plasma albumin</text>
<circle cx="560.5" cy="277.4" r="1.1" fill="#000"/>
<text x="563.2" y="279.2" font-size="5.2" text-anchor="start" font-weight="bold" fill="#000" textLength="30.3" lengthAdjust="spacingAndGlyphs">control TGR</text>
<circle cx="610.1" cy="277.4" r="1.0" fill="#ea3a40"/>
<text x="613.3" y="279.2" font-size="5.2" text-anchor="start" font-weight="bold" fill="#000" textLength="32.3" lengthAdjust="spacingAndGlyphs">TGR + DOXO</text>
<line x1="572.4" y1="286.3" x2="572.4" y2="376.4" stroke="#222" stroke-width="0.6"/>
<line x1="572.1" y1="376.1" x2="648.0" y2="376.1" stroke="#222" stroke-width="0.65"/>
<line x1="570.6" y1="286.6" x2="572.4" y2="286.6" stroke="#000" stroke-width="0.6"/>
<text x="570.2" y="288.5" font-size="5.4" text-anchor="end" font-weight="bold" fill="#000">50</text>
<line x1="570.6" y1="304.7" x2="572.4" y2="304.7" stroke="#000" stroke-width="0.6"/>
<text x="570.2" y="306.6" font-size="5.4" text-anchor="end" font-weight="bold" fill="#000">40</text>
<line x1="570.6" y1="322.5" x2="572.4" y2="322.5" stroke="#000" stroke-width="0.6"/>
<text x="570.2" y="324.4" font-size="5.4" text-anchor="end" font-weight="bold" fill="#000">30</text>
<line x1="570.6" y1="340.4" x2="572.4" y2="340.4" stroke="#000" stroke-width="0.6"/>
<text x="570.2" y="342.3" font-size="5.4" text-anchor="end" font-weight="bold" fill="#000">20</text>
<line x1="570.6" y1="358.3" x2="572.4" y2="358.3" stroke="#000" stroke-width="0.6"/>
<text x="570.2" y="360.2" font-size="5.4" text-anchor="end" font-weight="bold" fill="#000">10</text>
<line x1="570.6" y1="376.1" x2="572.4" y2="376.1" stroke="#000" stroke-width="0.6"/>
<text x="570.2" y="378.0" font-size="5.4" text-anchor="end" font-weight="bold" fill="#000">0</text>
<text transform="translate(562.3,334.4) rotate(-90)" font-size="5.2" font-weight="bold" text-anchor="middle">P<tspan font-size="3.6" dy="1.1">Alb</tspan><tspan dy="-1.1" font-size="5.2">, g/L</tspan></text>
<rect x="576.3" y="306.2" width="12.0" height="69.9" fill="#fff" stroke="#000" stroke-width="0.5"/>
<rect x="591.7" y="344.5" width="12.0" height="31.6" fill="#9e9ea0" stroke="#707070" stroke-width="0.4"/>
<rect x="616.5" y="308.1" width="12.0" height="68.0" fill="#fff" stroke="#000" stroke-width="0.5"/>
<rect x="631.6" y="342.7" width="12.0" height="33.4" fill="#9e9ea0" stroke="#707070" stroke-width="0.4"/>
<line x1="582.3" y1="376.1" x2="582.3" y2="377.5" stroke="#000" stroke-width="0.5"/>
<line x1="597.7" y1="376.1" x2="597.7" y2="377.5" stroke="#000" stroke-width="0.5"/>
<line x1="622.5" y1="376.1" x2="622.5" y2="377.5" stroke="#000" stroke-width="0.5"/>
<line x1="637.6" y1="376.1" x2="637.6" y2="377.5" stroke="#000" stroke-width="0.5"/>
<rect x="581.3" y="296.2" width="2.0" height="2.0" fill="#000" stroke="none" stroke-width="1"/>
<rect x="578.8" y="303.2" width="2.0" height="2.0" fill="#000" stroke="none" stroke-width="1"/>
<rect x="583.8" y="303.2" width="2.0" height="2.0" fill="#000" stroke="none" stroke-width="1"/>
<rect x="575.8" y="304.9" width="2.0" height="2.0" fill="#000" stroke="none" stroke-width="1"/>
<rect x="581.3" y="304.9" width="2.0" height="2.0" fill="#000" stroke="none" stroke-width="1"/>
<rect x="586.3" y="304.9" width="2.0" height="2.0" fill="#000" stroke="none" stroke-width="1"/>
<rect x="578.8" y="306.6" width="2.0" height="2.0" fill="#000" stroke="none" stroke-width="1"/>
<rect x="583.8" y="306.6" width="2.0" height="2.0" fill="#000" stroke="none" stroke-width="1"/>
<rect x="581.3" y="308.6" width="2.0" height="2.0" fill="#000" stroke="none" stroke-width="1"/>
<rect x="618.0" y="304.9" width="2.0" height="2.0" fill="#000" stroke="none" stroke-width="1"/>
<rect x="621.5" y="304.9" width="2.0" height="2.0" fill="#000" stroke="none" stroke-width="1"/>
<rect x="624.7" y="304.9" width="2.0" height="2.0" fill="#000" stroke="none" stroke-width="1"/>
<rect x="621.5" y="307.4" width="2.0" height="2.0" fill="#000" stroke="none" stroke-width="1"/>
<rect x="621.5" y="311.1" width="2.0" height="2.0" fill="#000" stroke="none" stroke-width="1"/>
<circle cx="597.7" cy="340.6" r="1.0" fill="#ea3a40"/>
<circle cx="594.7" cy="343.9" r="1.0" fill="#ea3a40"/>
<circle cx="597.7" cy="343.9" r="1.0" fill="#ea3a40"/>
<circle cx="600.9" cy="343.9" r="1.0" fill="#ea3a40"/>
<circle cx="597.7" cy="345.6" r="1.0" fill="#ea3a40"/>
<circle cx="637.6" cy="338.9" r="1.0" fill="#ea3a40"/>
<circle cx="635.6" cy="343.1" r="1.0" fill="#ea3a40"/>
<circle cx="639.4" cy="343.1" r="1.0" fill="#ea3a40"/>
<circle cx="637.6" cy="345.6" r="1.0" fill="#ea3a40"/>
<circle cx="637.6" cy="341.4" r="1.0" fill="#ea3a40"/>
<text x="589.7" y="383.5" font-size="5.4" text-anchor="middle" font-weight="bold" fill="#000">2 weeks</text>
<text x="630.2" y="383.5" font-size="5.4" text-anchor="middle" font-weight="bold" fill="#000">5 weeks</text>
<path d="M582.3,296.2 V294.2 H597.7 V338.2" fill="none" stroke="#444" stroke-width="0.4"/>
<path d="M622.5,303.4 V294.2 H637.6 V336.9" fill="none" stroke="#444" stroke-width="0.4"/>
<text x="589.7" y="295.0" font-size="7.6" text-anchor="middle" font-weight="bold" fill="#000" textLength="14.5" lengthAdjust="spacingAndGlyphs">****</text>
<text x="629.9" y="295.0" font-size="7.6" text-anchor="middle" font-weight="bold" fill="#000" textLength="14.5" lengthAdjust="spacingAndGlyphs">****</text>
<rect x="14.2" y="426.2" width="423.8" height="124.8" fill="url(#gGreen)" stroke="#a4cc8a" stroke-width="0.8"/>
<text y="445.9" font-size="14.0" font-weight="bold" fill="#000"><tspan x="23.3" textLength="30.4" lengthAdjust="spacingAndGlyphs">NEW</tspan> <tspan x="59.0" textLength="53.8" lengthAdjust="spacingAndGlyphs">MODEL:</tspan></text>
<text x="21.8" y="465.8" font-size="20.5" font-family="DejaVu Sans, sans-serif" fill="#000">✓</text>
<text y="465.0" font-size="14.0" font-weight="normal" fill="#000"><tspan x="42.9" textLength="37.5" lengthAdjust="spacingAndGlyphs">DOXO</tspan> <tspan x="83.8" textLength="47.1" lengthAdjust="spacingAndGlyphs">elicited</tspan> <tspan x="134.5" textLength="70.3" lengthAdjust="spacingAndGlyphs">myocardial</tspan> <tspan x="208.4" textLength="51.5" lengthAdjust="spacingAndGlyphs">damage</tspan> <tspan x="263.5" textLength="41.6" lengthAdjust="spacingAndGlyphs">typical</tspan> <tspan x="308.7" textLength="17.7" lengthAdjust="spacingAndGlyphs">for</tspan> <tspan x="330.0" textLength="98.9" lengthAdjust="spacingAndGlyphs">chemotherapy-</tspan></text>
<text y="483.9" font-size="14.0" font-weight="normal" fill="#000"><tspan x="42.9" textLength="51.5" lengthAdjust="spacingAndGlyphs">induced</tspan> <tspan x="97.8" textLength="24.0" lengthAdjust="spacingAndGlyphs">late</tspan> <tspan x="125.4" textLength="85.4" lengthAdjust="spacingAndGlyphs">cardiotoxicity</tspan> <tspan x="214.4" textLength="24.4" lengthAdjust="spacingAndGlyphs">and</tspan> <tspan x="242.4" textLength="61.3" lengthAdjust="spacingAndGlyphs">nephrotic</tspan> <tspan x="307.3" textLength="63.9" lengthAdjust="spacingAndGlyphs">syndrome</tspan></text>
<text x="21.8" y="503.7" font-size="20.5" font-family="DejaVu Sans, sans-serif" fill="#000">✓</text>
<text y="502.9" font-size="14.0" font-weight="normal" fill="#000"><tspan x="42.9" textLength="17.8" lengthAdjust="spacingAndGlyphs">No</tspan> <tspan x="65.0" textLength="37.4" lengthAdjust="spacingAndGlyphs">major</tspan> <tspan x="105.8" textLength="77.3" lengthAdjust="spacingAndGlyphs">impairment</tspan> <tspan x="187.0" textLength="12.2" lengthAdjust="spacingAndGlyphs">of</tspan> <tspan x="202.4" textLength="20.4" lengthAdjust="spacingAndGlyphs">the</tspan> <tspan x="226.8" textLength="79.9" lengthAdjust="spacingAndGlyphs">peritoneum,</tspan> <tspan x="309.7" textLength="38.1" lengthAdjust="spacingAndGlyphs">lungs,</tspan> <tspan x="351.4" textLength="27.0" lengthAdjust="spacingAndGlyphs">liver</tspan></text>
<text x="21.8" y="521.8" font-size="20.5" font-family="DejaVu Sans, sans-serif" fill="#000">✓</text>
<text y="521.8" font-size="14.0" font-weight="bold" fill="#000"><tspan x="42.9" textLength="83.5" lengthAdjust="spacingAndGlyphs">Corresponds</tspan> <tspan x="130.1" textLength="26.0" lengthAdjust="spacingAndGlyphs">well</tspan> <tspan x="159.3" textLength="13.0" lengthAdjust="spacingAndGlyphs">to</tspan> <tspan x="176.3" textLength="8.0" lengthAdjust="spacingAndGlyphs">a</tspan> <tspan x="188.4" textLength="45.4" lengthAdjust="spacingAndGlyphs">clinical</tspan> <tspan x="237.4" textLength="57.7" lengthAdjust="spacingAndGlyphs">situation</tspan> <tspan x="298.9" textLength="13.8" lengthAdjust="spacingAndGlyphs">of</tspan> <tspan x="316.4" textLength="42.0" lengthAdjust="spacingAndGlyphs">cancer</tspan> <tspan x="362.0" textLength="54.9" lengthAdjust="spacingAndGlyphs">patients</tspan></text>
<text y="540.9" font-size="14.0" font-weight="bold" fill="#000"><tspan x="42.9" textLength="58.9" lengthAdjust="spacingAndGlyphs">receiving</tspan> <tspan x="105.4" textLength="94.4" lengthAdjust="spacingAndGlyphs">anthracyclines</tspan></text>
<path d="M449.4,471.6 H468.3 V454.1 L487,488.4 L468.3,523 V506.2 H449.4 Z" fill="url(#gArr)" filter="url(#sh)"/>
<rect x="492.2" y="426.2" width="179.1" height="124.7" fill="url(#gBlue)" stroke="#8199d2" stroke-width="0.6"/>
<text y="446.3" font-size="14.0" font-weight="normal" fill="#000"><tspan x="503.3" textLength="51.5" lengthAdjust="spacingAndGlyphs">Optimal</tspan> <tspan x="558.8" textLength="17.0" lengthAdjust="spacingAndGlyphs">for</tspan> <tspan x="580.0" textLength="54.8" lengthAdjust="spacingAndGlyphs">studying</tspan> <tspan x="638.8" textLength="20.7" lengthAdjust="spacingAndGlyphs">the</tspan></text>
<text y="465.3" font-size="14.0" font-weight="normal" fill="#000"><tspan x="520.3" textLength="105.5" lengthAdjust="spacingAndGlyphs">pathophysiology</tspan> <tspan x="629.4" textLength="13.8" lengthAdjust="spacingAndGlyphs">of</tspan></text>
<text y="484.0" font-size="14.0" font-weight="normal" fill="#000"><tspan x="506.7" textLength="149.2" lengthAdjust="spacingAndGlyphs">chemotherapy-induced</tspan></text>
<text y="503.0" font-size="14.0" font-weight="bold" fill="#000"><tspan x="504.3" textLength="38.5" lengthAdjust="spacingAndGlyphs">HFrEF</tspan> <tspan x="546.1" textLength="30.0" lengthAdjust="spacingAndGlyphs">with</tspan> <tspan x="579.4" textLength="78.5" lengthAdjust="spacingAndGlyphs">cardio-renal</tspan></text>
<text y="521.7" font-size="14.0" font-weight="normal" fill="#000"><tspan x="502.7" textLength="65.4" lengthAdjust="spacingAndGlyphs" font-weight="bold">syndrome</tspan><tspan x="567.8" textLength="3.5" lengthAdjust="spacingAndGlyphs">,</tspan> <tspan x="575.4" textLength="63.4" lengthAdjust="spacingAndGlyphs">especially</tspan> <tspan x="642.4" textLength="17.9" lengthAdjust="spacingAndGlyphs">for</tspan></text>
<text y="540.7" font-size="14.0" font-weight="normal" fill="#000"><tspan x="524.7" textLength="63.0" lengthAdjust="spacingAndGlyphs">long-term</tspan> <tspan x="591.9" textLength="45.9" lengthAdjust="spacingAndGlyphs">studies</tspan></text>
<g transform="translate(20,80) scale(0.146)">
<path d="M268,232 C225,218 175,182 112,178 C72,176 58,196 80,216 C100,233 124,246 132,266" fill="none" stroke="#d79c9c" stroke-width="16" stroke-linecap="round"/>
<path d="M268,229 C225,214 175,178 112,174 C80,173 66,188 74,203" fill="none" stroke="#e6b9b6" stroke-width="4" stroke-linecap="round"/>
<ellipse cx="246" cy="298" rx="21" ry="10" fill="#e2aaa6"/>
<path d="M526,132 L538,70 C560,85 590,120 602,152 Z" fill="#f1efef" stroke="#d8d3d3" stroke-width="3"/>
<path d="M545,92 C562,104 584,128 596,150 L570,140 Z" fill="#e3b3b0"/>
<path d="M345,395 L350,452 C335,456 318,460 320,468 C330,478 370,478 382,470 C384,462 376,456 372,452 L378,392 Z" fill="#e5b0ab"/>
<path d="M506,360 L514,418 C508,426 512,434 530,434 C548,434 562,428 560,420 C552,412 540,412 536,408 L534,356 Z" fill="#e5b0ab"/>
<path d="M330,150 C290,165 262,200 256,250 C252,290 275,325 330,360 L338,392 C348,408 380,404 388,392 C420,378 470,366 520,362 C560,340 590,300 604,268 C625,258 640,235 644,205 C646,190 640,180 628,176 C610,158 575,140 535,134 C505,130 470,138 440,150 C400,140 360,140 330,150 Z" fill="#f4f4f4" stroke="#dcdcdc" stroke-width="3"/>
<path d="M330,360 C345,330 350,300 390,280 C370,310 365,350 388,392 C380,404 348,408 338,392 Z" fill="#e6e6e6"/>
<path d="M262,215 C258,260 280,320 330,358 C300,320 280,270 290,200 Z" fill="#e9e9e9"/>
<path d="M372,150 C366,110 390,80 425,82 C455,84 470,110 464,145 C458,175 445,195 432,200 C405,196 380,180 372,150 Z" fill="#dea6a2" stroke="#cf9491" stroke-width="2"/>
<path d="M420,110 C445,115 452,140 445,165 C440,180 436,190 432,196 C430,170 428,140 420,110 Z" fill="#cf8f8c"/>
<ellipse cx="522" cy="180" rx="14" ry="9" transform="rotate(-25 522 180)" fill="#c62a35"/>
<ellipse cx="523" cy="181" rx="6" ry="5" fill="#8e1220"/>
<ellipse cx="630" cy="190" rx="13" ry="12" fill="#e2a6a8"/>
<path d="M584,246 C600,248 618,242 628,230" fill="none" stroke="#9a9a9a" stroke-width="2.5"/>
<path d="M600,205 L560,188 M602,212 L556,208 M604,220 L566,232" fill="none" stroke="#cfcfcf" stroke-width="1.5"/>
</g>
<defs><linearGradient id="gRod" x1="0" y1="0" x2="1" y2="0"><stop offset="0" stop-color="#c9c9c9"/><stop offset="0.45" stop-color="#fafafa"/><stop offset="1" stop-color="#c4c4c4"/></linearGradient><linearGradient id="gLiq" x1="0" y1="0" x2="1" y2="0"><stop offset="0" stop-color="#d9c04a"/><stop offset="0.4" stop-color="#f3e48c"/><stop offset="1" stop-color="#d7bb45"/></linearGradient></defs>
<g transform="translate(11.5,58.6) rotate(-34.2)">
<rect x="-1.7" y="0.6" width="3.4" height="14.5" fill="url(#gRod)" stroke="#b3b3b3" stroke-width="0.3"/>
<rect x="-3" y="-1" width="6" height="2" rx="0.9" fill="#e6e6e6" stroke="#adadad" stroke-width="0.4"/>
<rect x="-3.1" y="15.2" width="6.2" height="27.3" fill="#f1f1f1" stroke="#bdbdbd" stroke-width="0.5"/>
<rect x="-4.9" y="14.1" width="9.8" height="1.7" rx="0.6" fill="#ececec" stroke="#b5b5b5" stroke-width="0.4"/>
<rect x="-2.8" y="31.0" width="5.6" height="11.3" fill="url(#gLiq)"/>
<rect x="-2.9" y="29.9" width="5.8" height="1.3" fill="#4a4a4a"/>
<path d="M-1.5,42.5 H1.5 L0.8,44.2 L0.5,47.2 H-0.5 L-0.8,44.2 Z" fill="#3da796"/>
<line x1="0" y1="47" x2="0" y2="58.5" stroke="#7d7d7d" stroke-width="0.5"/>
</g>
</svg></body></html>
